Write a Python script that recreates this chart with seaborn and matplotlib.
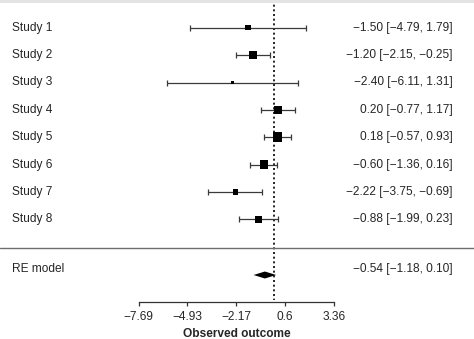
import matplotlib
matplotlib.use("Agg")
import matplotlib.pyplot as plt
import matplotlib.transforms as mtransforms
from matplotlib.patches import Rectangle
import numpy as np
import pandas as pd
import seaborn as sns

# data
studies = ["Study 1", "Study 2", "Study 3", "Study 4",
           "Study 5", "Study 6", "Study 7", "Study 8"]
estimate = [-1.50, -1.20, -2.40, 0.20, 0.18, -0.60, -2.22, -0.88]
ci_low = [-4.79, -2.15, -6.11, -0.77, -0.57, -1.36, -3.75, -1.99]
ci_high = [1.79, -0.25, 1.31, 1.17, 0.93, 0.16, -0.69, 0.23]
weight = [7.2, 14.2, 2.1, 14.2, 23.5, 18.6, 7.2, 13.0]
re_est, re_low, re_high = -0.54, -1.18, 0.10
xticks = [-7.69, -4.93, -2.17, 0.6, 3.36]


def fmt(v, nd=2):
    s = f"{v:.{nd}f}"
    return s.replace("-", "\u2212")


def plot_forest():
    sns.set_style("ticks")
    plt.rcParams["font.family"] = ["Liberation Sans", "DejaVu Sans"]
    plt.rcParams["font.size"] = 8.6

    W, H = 474, 339
    fig = plt.figure(figsize=(W / 100, H / 100), dpi=100)
    axis_y = 302
    ax = fig.add_axes([0, (H - axis_y) / H, 1, axis_y / H])
    ax.set_xlim(-15.55, 11.31)
    ax.set_ylim(axis_y, 0)

    # grey strip along the top edge
    fig.patches.append(Rectangle((0, 1 - 3 / H), 1, 3 / H, transform=fig.transFigure,
                                 facecolor="#e4e4e4", edgecolor="none", zorder=0))

    rows = 27.7 + 27.4 * np.arange(len(studies))
    df = pd.DataFrame({"study": studies, "est": estimate, "lo": ci_low,
                       "hi": ci_high, "w": weight, "row": rows})

    ax.errorbar(df.est, df.row, xerr=[df.est - df.lo, df.hi - df.est], fmt="none",
                ecolor="#3a3a3a", elinewidth=0.9, capsize=2.0, capthick=0.9, zorder=2)
    sns.scatterplot(data=df, x="est", y="row", size="w", sizes=(4.5, 48), marker="s",
                    color="black", edgecolor="black", linewidth=0, legend=False,
                    ax=ax, zorder=3)

    # summary diamond
    dy = 275
    ax.fill([re_low, re_est, re_high, re_est], [dy, dy - 3.5, dy, dy + 3.5],
            color="black", lw=0, zorder=3)

    ax.axhline(248, color="#6e6e6e", lw=1.0)
    ax.plot([0, 0], [0, 300], color="black", ls=(0, (1.2, 1.6)), lw=1.2, zorder=1)

    tr = mtransforms.blended_transform_factory(ax.transAxes, ax.transData)
    for _, r in df.iterrows():
        ax.text(12 / W, r.row, r.study, transform=tr, ha="left", va="center")
        ax.text(453 / W, r.row, f"{fmt(r.est)} [{fmt(r.lo)}, {fmt(r.hi)}]",
                transform=tr, ha="right", va="center")
    ax.text(12 / W, 268.7, "RE model", transform=tr, ha="left", va="center")
    ax.text(453 / W, 268.7, f"{fmt(re_est)} [{fmt(re_low)}, {fmt(re_high)}]",
            transform=tr, ha="right", va="center")

    for s in ["top", "left", "right"]:
        ax.spines[s].set_visible(False)
    ax.spines["bottom"].set_bounds(xticks[0], xticks[-1])
    ax.spines["bottom"].set_color("#333333")
    ax.spines["bottom"].set_linewidth(0.9)
    ax.set_yticks([])
    ax.set_xticks(xticks)
    ax.set_xticklabels([fmt(t, 2) if t != 0.6 else "0.6" for t in xticks])
    ax.tick_params(axis="x", length=3.2, width=0.9, color="#333333", pad=3.5,
                   labelsize=8.6)
    ax.set_xlabel("Observed outcome", fontweight="bold", fontsize=8.6, labelpad=3.5)
    ax.set_ylabel("")
    ax.patch.set_alpha(0)
    return fig, ax


if __name__ == "__main__":
    fig, ax = plot_forest()
    fig.savefig("out.png", dpi=100)
